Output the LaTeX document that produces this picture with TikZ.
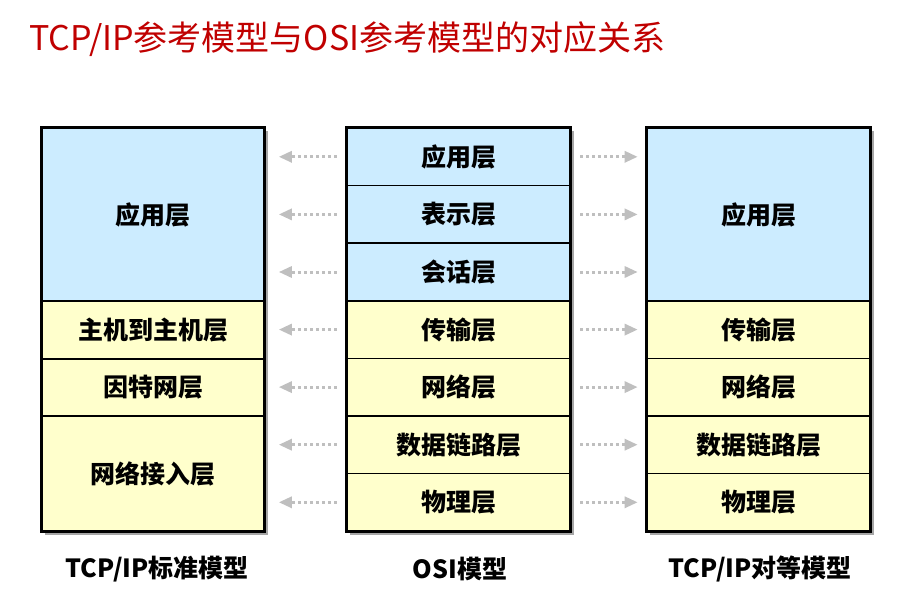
\documentclass[tikz,border=0pt]{standalone}
\usepackage{fontspec}
\setmainfont{Noto Sans CJK SC}
\usetikzlibrary{arrows.meta,backgrounds,calc}
\definecolor{titlered}{HTML}{C00000}
\definecolor{cellblue}{HTML}{CCECFF}
\definecolor{cellyellow}{HTML}{FFFFCC}
\definecolor{arrowgray}{HTML}{BFBFBF}
\definecolor{shadowgray}{HTML}{A6A6A6}
\tikzset{
  cell/.style={draw=black, line width=1.6pt, minimum width=222pt, inner sep=0pt,
    font=\fontsize{25}{27}\selectfont\bfseries},
  bluecell/.style={cell, fill=cellblue},
  yellowcell/.style={cell, fill=cellyellow},
  frame/.style={draw=black, line width=3pt},
  shade/.style={fill=shadowgray},
  maparrow/.style={draw=arrowgray, line width=3pt, dash pattern=on 3pt off 3pt,
    -{Triangle[length=13pt,width=11pt,fill=arrowgray]}},
  caption/.style={font=\fontsize{25}{27}\selectfont\bfseries},
}
\begin{document}
\begin{tikzpicture}[x=1pt,y=-1pt]
\useasboundingbox (0,0) rectangle (922,597);
\node[anchor=west, text=titlered, font=\fontsize{34}{38}\selectfont, inner sep=0pt] (title) at (29,39) {TCP/IP参考模型与OSI参考模型的对应关系};

% left column
\node[bluecell, minimum height=173pt] (L1) at (153,214.5) {应用层};
\node[yellowcell, minimum height=58pt] (L2) at (153,330) {主机到主机层};
\node[yellowcell, minimum height=57pt] (L3) at (153,387.5) {因特网层};
\node[yellowcell, minimum height=115pt] (L4) at (153,473.5) {网络接入层};

% middle column
\node[bluecell, minimum height=57.6pt] (M1) at (458.5,156.8) {应用层};
\node[bluecell, minimum height=57.6pt] (M2) at (458.5,214.4) {表示层};
\node[bluecell, minimum height=57.6pt] (M3) at (458.5,272.0) {会话层};
\node[yellowcell, minimum height=57.6pt] (M4) at (458.5,329.6) {传输层};
\node[yellowcell, minimum height=57.6pt] (M5) at (458.5,387.1) {网络层};
\node[yellowcell, minimum height=57.6pt] (M6) at (458.5,444.7) {数据链路层};
\node[yellowcell, minimum height=57.6pt] (M7) at (458.5,502.3) {物理层};

% right column
\node[bluecell, minimum height=173pt] (R1) at (758.5,214.5) {应用层};
\node[yellowcell, minimum height=57.6pt] (R2) at (758.5,329.6) {传输层};
\node[yellowcell, minimum height=57.6pt] (R3) at (758.5,387.1) {网络层};
\node[yellowcell, minimum height=57.6pt] (R4) at (758.5,444.7) {数据链路层};
\node[yellowcell, minimum height=57.6pt] (R5) at (758.5,502.3) {物理层};

% frames and shadows
\begin{scope}[on background layer]
  \fill[shade] ([shift={(3.5pt,-3.5pt)}]L1.north west) rectangle ([shift={(3.5pt,-3.5pt)}]L4.south east);
  \fill[shade] ([shift={(3.5pt,-3.5pt)}]M1.north west) rectangle ([shift={(3.5pt,-3.5pt)}]M7.south east);
  \fill[shade] ([shift={(3.5pt,-3.5pt)}]R1.north west) rectangle ([shift={(3.5pt,-3.5pt)}]R5.south east);
\end{scope}
\draw[frame] (L1.north west) rectangle (L4.south east);
\draw[frame] (M1.north west) rectangle (M7.south east);
\draw[frame] (R1.north west) rectangle (R5.south east);

% mapping arrows
\foreach \m in {M1,M2,M3,M4,M5,M6,M7}{
  \draw[maparrow] ([xshift=-10pt]\m.west) -- ([xshift=14pt]\m.west -| L1.east);
  \draw[maparrow] ([xshift=10pt]\m.east) -- ([xshift=-9pt]\m.east -| R1.west);
}

% captions
\node[caption] (cL) at (157,569) {TCP/IP标准模型};
\node[caption] (cM) at (460,569) {OSI模型};
\node[caption] (cR) at (760,569) {TCP/IP对等模型};
\end{tikzpicture}
\end{document}
